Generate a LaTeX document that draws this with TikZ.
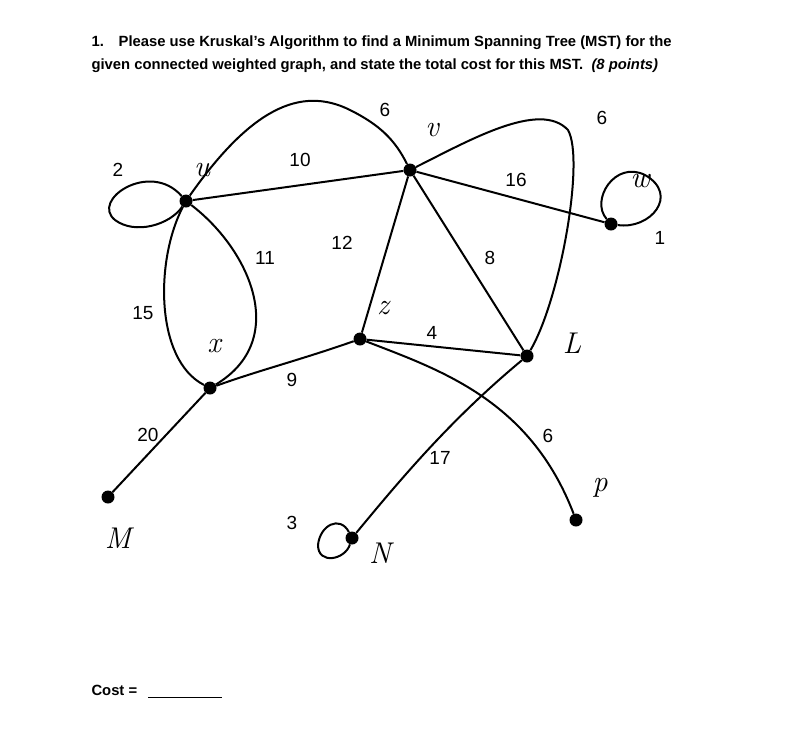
\documentclass[tikz,border=0pt]{standalone}
\usepackage{fontspec}
\setsansfont{Liberation Sans}
\begin{document}
\begin{tikzpicture}[x=1pt,y=-1pt,
  vtx/.style={circle,fill=black,inner sep=0pt,minimum size=13pt},
  edge/.style={line width=2pt},
  hd/.style={font=\sffamily\bfseries\fontsize{14.8}{17}\selectfont},
  wl/.style={font=\sffamily\fontsize{19}{21}\selectfont},
  nl/.style={font=\itshape\fontsize{30}{32}\selectfont}]
\useasboundingbox (0,0) rectangle (810,729);
\node[anchor=west,hd] (h1) at (88,43) {1.\quad Please use Kruskal's Algorithm to find a Minimum Spanning Tree (MST) for the};
\node[anchor=west,hd] (h2) at (88,66) {given connected weighted graph, and state the total cost for this MST.\ \ \textit{(8 points)}};
\node[vtx] (U) at (186,201) {};
\node[vtx] (V) at (410,170) {};
\node[vtx] (W) at (611,224) {};
\node[vtx] (Z) at (360,339) {};
\node[vtx] (L) at (527,356) {};
\node[vtx] (X) at (210,388) {};
\node[vtx] (M) at (108,497) {};
\node[vtx] (N) at (352,538) {};
\node[vtx] (P) at (576,520) {};
\draw[edge] (U) .. controls (150,160) and (90,200) .. (115,220) .. controls (135,235) and (170,225) .. (U);
\draw[edge] (U) -- (V);
\draw[edge] (U) .. controls (250,110) and (300,85) .. (350,110) .. controls (380,125) and (395,140) .. (V);
\draw[edge] (U) .. controls (155,260) and (155,360) .. (X);
\draw[edge] (U) .. controls (250,250) and (290,340) .. (X);
\draw[edge] (V) -- (Z);
\draw[edge] (V) -- (L);
\draw[edge] (V) -- (W);
\draw[edge] (V) .. controls (470,140) and (540,100) .. (568,130) .. controls (585,160) and (560,300) .. (L);
\draw[edge] (W) .. controls (590,200) and (615,160) .. (645,175) .. controls (680,195) and (650,230) .. (W);
\draw[edge] (Z) -- (L);
\draw[edge] (Z) .. controls (300,360) and (260,370) .. (X);
\draw[edge] (Z) .. controls (440,370) and (530,400) .. (P);
\draw[edge] (X) -- (M);
\draw[edge] (L) .. controls (450,420) and (400,480) .. (N);
\draw[edge] (N) .. controls (340,515) and (320,525) .. (318,545) .. controls (318,565) and (345,560) .. (N);
\node[wl] (l2) at (118,170) {2};
\node[wl] (l10) at (300,160) {10};
\node[wl] (l6a) at (385,110) {6};
\node[wl] (l15) at (143,313) {15};
\node[wl] (l11) at (265,258) {11};
\node[wl] (l12) at (342,243) {12};
\node[wl] (l8) at (490,258) {8};
\node[wl] (l16) at (516,180) {16};
\node[wl] (l6b) at (602,118) {6};
\node[wl] (l1) at (660,238) {1};
\node[wl] (l4) at (432,333) {4};
\node[wl] (l9) at (292,380) {9};
\node[wl] (l6c) at (548,436) {6};
\node[wl] (l20) at (148,435) {20};
\node[wl] (l17) at (440,458) {17};
\node[wl] (l3) at (292,523) {3};
\node[nl] (nu) at (202,170) {u};
\node[nl] (nv) at (432,130) {v};
\node[nl] (nw) at (640,181) {w};
\node[nl] (nz) at (383,308) {z};
\node[nl] (nx) at (214,346) {x};
\node[nl] (nL) at (572,343) {L};
\node[nl] (nM) at (118,538) {M};
\node[nl] (nN) at (380,553) {N};
\node[nl] (np) at (600,488) {p};
\node[anchor=west,hd] (cost) at (88,690) {Cost =};
\coordinate (c1) at (148,697);
\coordinate (c2) at (222,697);
\draw[line width=1pt] (c1) -- (c2);
\end{tikzpicture}
\end{document}
